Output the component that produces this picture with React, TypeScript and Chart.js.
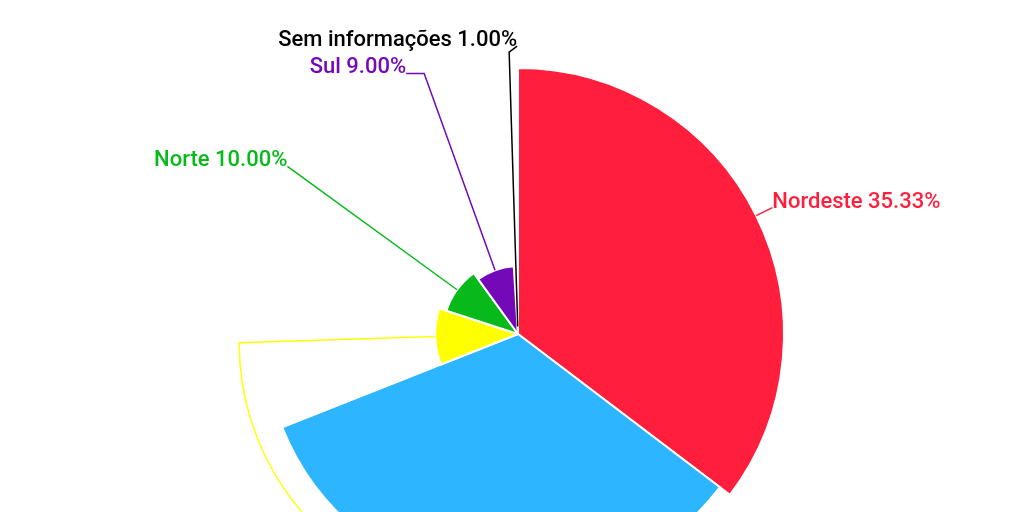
import { useEffect, useRef } from "react";
import { Chart, registerables } from "chart.js";

Chart.register(...registerables);

const categories = ["Nordeste", "Sudeste", "Centro-Oeste", "Norte", "Sul", "Sem informações"];
const percentages = [35.33, 33.67, 11.0, 10.0, 9.0, 1.0];
const colors = ["#FF1F3D", "#2DB5FF", "#FFFF00", "#07BA1A", "#7309B7", "#000000"];

// leader-line styling (how far past the chart's outer radius the first segment reaches, and the tail)
const leaderReach = [18, 14, 13, 19, 11, 16];
const leaderTail: Array<{ dx: number; dy: number; curve?: boolean }> = [
  { dx: 0, dy: 0 },
  { dx: 0, dy: 0 },
  { dx: 0, dy: 0, curve: true },
  { dx: 0, dy: 0 },
  { dx: -18, dy: 0 },
  { dx: 8, dy: -6 },
];

const rosePlugin = {
  id: "roseRadius",
  beforeDatasetsDraw(chart: any) {
    const meta = chart.getDatasetMeta(0);
    const vals = chart.data.datasets[0].data as number[];
    const maxV = Math.max(...vals);
    const R = meta.controller.outerRadius;
    meta.data.forEach((arc: any, i: number) => {
      arc.outerRadius = (R * vals[i]) / maxV;
    });
  },
  afterDatasetsDraw(chart: any) {
    const ctx = chart.ctx as CanvasRenderingContext2D;
    const meta = chart.getDatasetMeta(0);
    const vals = chart.data.datasets[0].data as number[];
    const labels = chart.data.labels as string[];
    const R = meta.controller.outerRadius;
    meta.data.forEach((arc: any, i: number) => {
      const a = (arc.startAngle + arc.endAngle) / 2;
      const cx = arc.x;
      const cy = arc.y;
      const r0 = arc.outerRadius;
      const r1 = R + leaderReach[i];
      const p0 = { x: cx + r0 * Math.cos(a), y: cy + r0 * Math.sin(a) };
      const p1 = { x: cx + r1 * Math.cos(a), y: cy + r1 * Math.sin(a) };
      const tail = leaderTail[i];
      ctx.save();
      ctx.strokeStyle = colors[i];
      ctx.lineWidth = 1.5;
      ctx.beginPath();
      ctx.moveTo(p0.x, p0.y);
      ctx.lineTo(p1.x, p1.y);
      let end = { x: p1.x + tail.dx, y: p1.y + tail.dy };
      if (tail.curve) {
        const rr = 260;
        const endAng = Math.PI * 0.6;
        ctx.arc(p1.x + rr, p1.y, rr, Math.PI, endAng, true);
        end = { x: p1.x + rr + rr * Math.cos(endAng), y: p1.y + rr * Math.sin(endAng) };
      } else {
        ctx.lineTo(end.x, end.y);
      }
      ctx.stroke();
      ctx.font = "500 22px Roboto";
      ctx.fillStyle = colors[i];
      ctx.textBaseline = "alphabetic";
      ctx.textAlign = Math.cos(a) >= 0 ? "left" : "right";
      ctx.fillText(`${labels[i]} ${vals[i].toFixed(2)}%`, end.x, end.y);
      ctx.restore();
    });
  },
};

export default function App() {
  const ref = useRef<HTMLCanvasElement>(null);
  useEffect(() => {
    const chart = new Chart(ref.current as HTMLCanvasElement, {
      type: "pie",
      data: {
        labels: categories,
        datasets: [
          {
            data: percentages,
            backgroundColor: colors,
            borderColor: "#ffffff",
            borderWidth: 2,
            radius: 266,
          } as any,
        ],
      },
      options: {
        animation: false,
        responsive: true,
        maintainAspectRatio: false,
        events: [],
        layout: { padding: { left: 12, top: 67, bottom: 67, right: 0 } },
        plugins: { legend: { display: false }, tooltip: { enabled: false } },
      },
      plugins: [rosePlugin],
    });
    return () => chart.destroy();
  }, []);
  return (
    <div
      style={{
        position: "fixed",
        left: 0,
        top: 0,
        width: 1024,
        height: 512,
        overflow: "hidden",
        background: "#ffffff",
      }}
    >
      <div style={{ position: "relative", width: 1024, height: 668 }}>
        <canvas ref={ref} />
      </div>
    </div>
  );
}
